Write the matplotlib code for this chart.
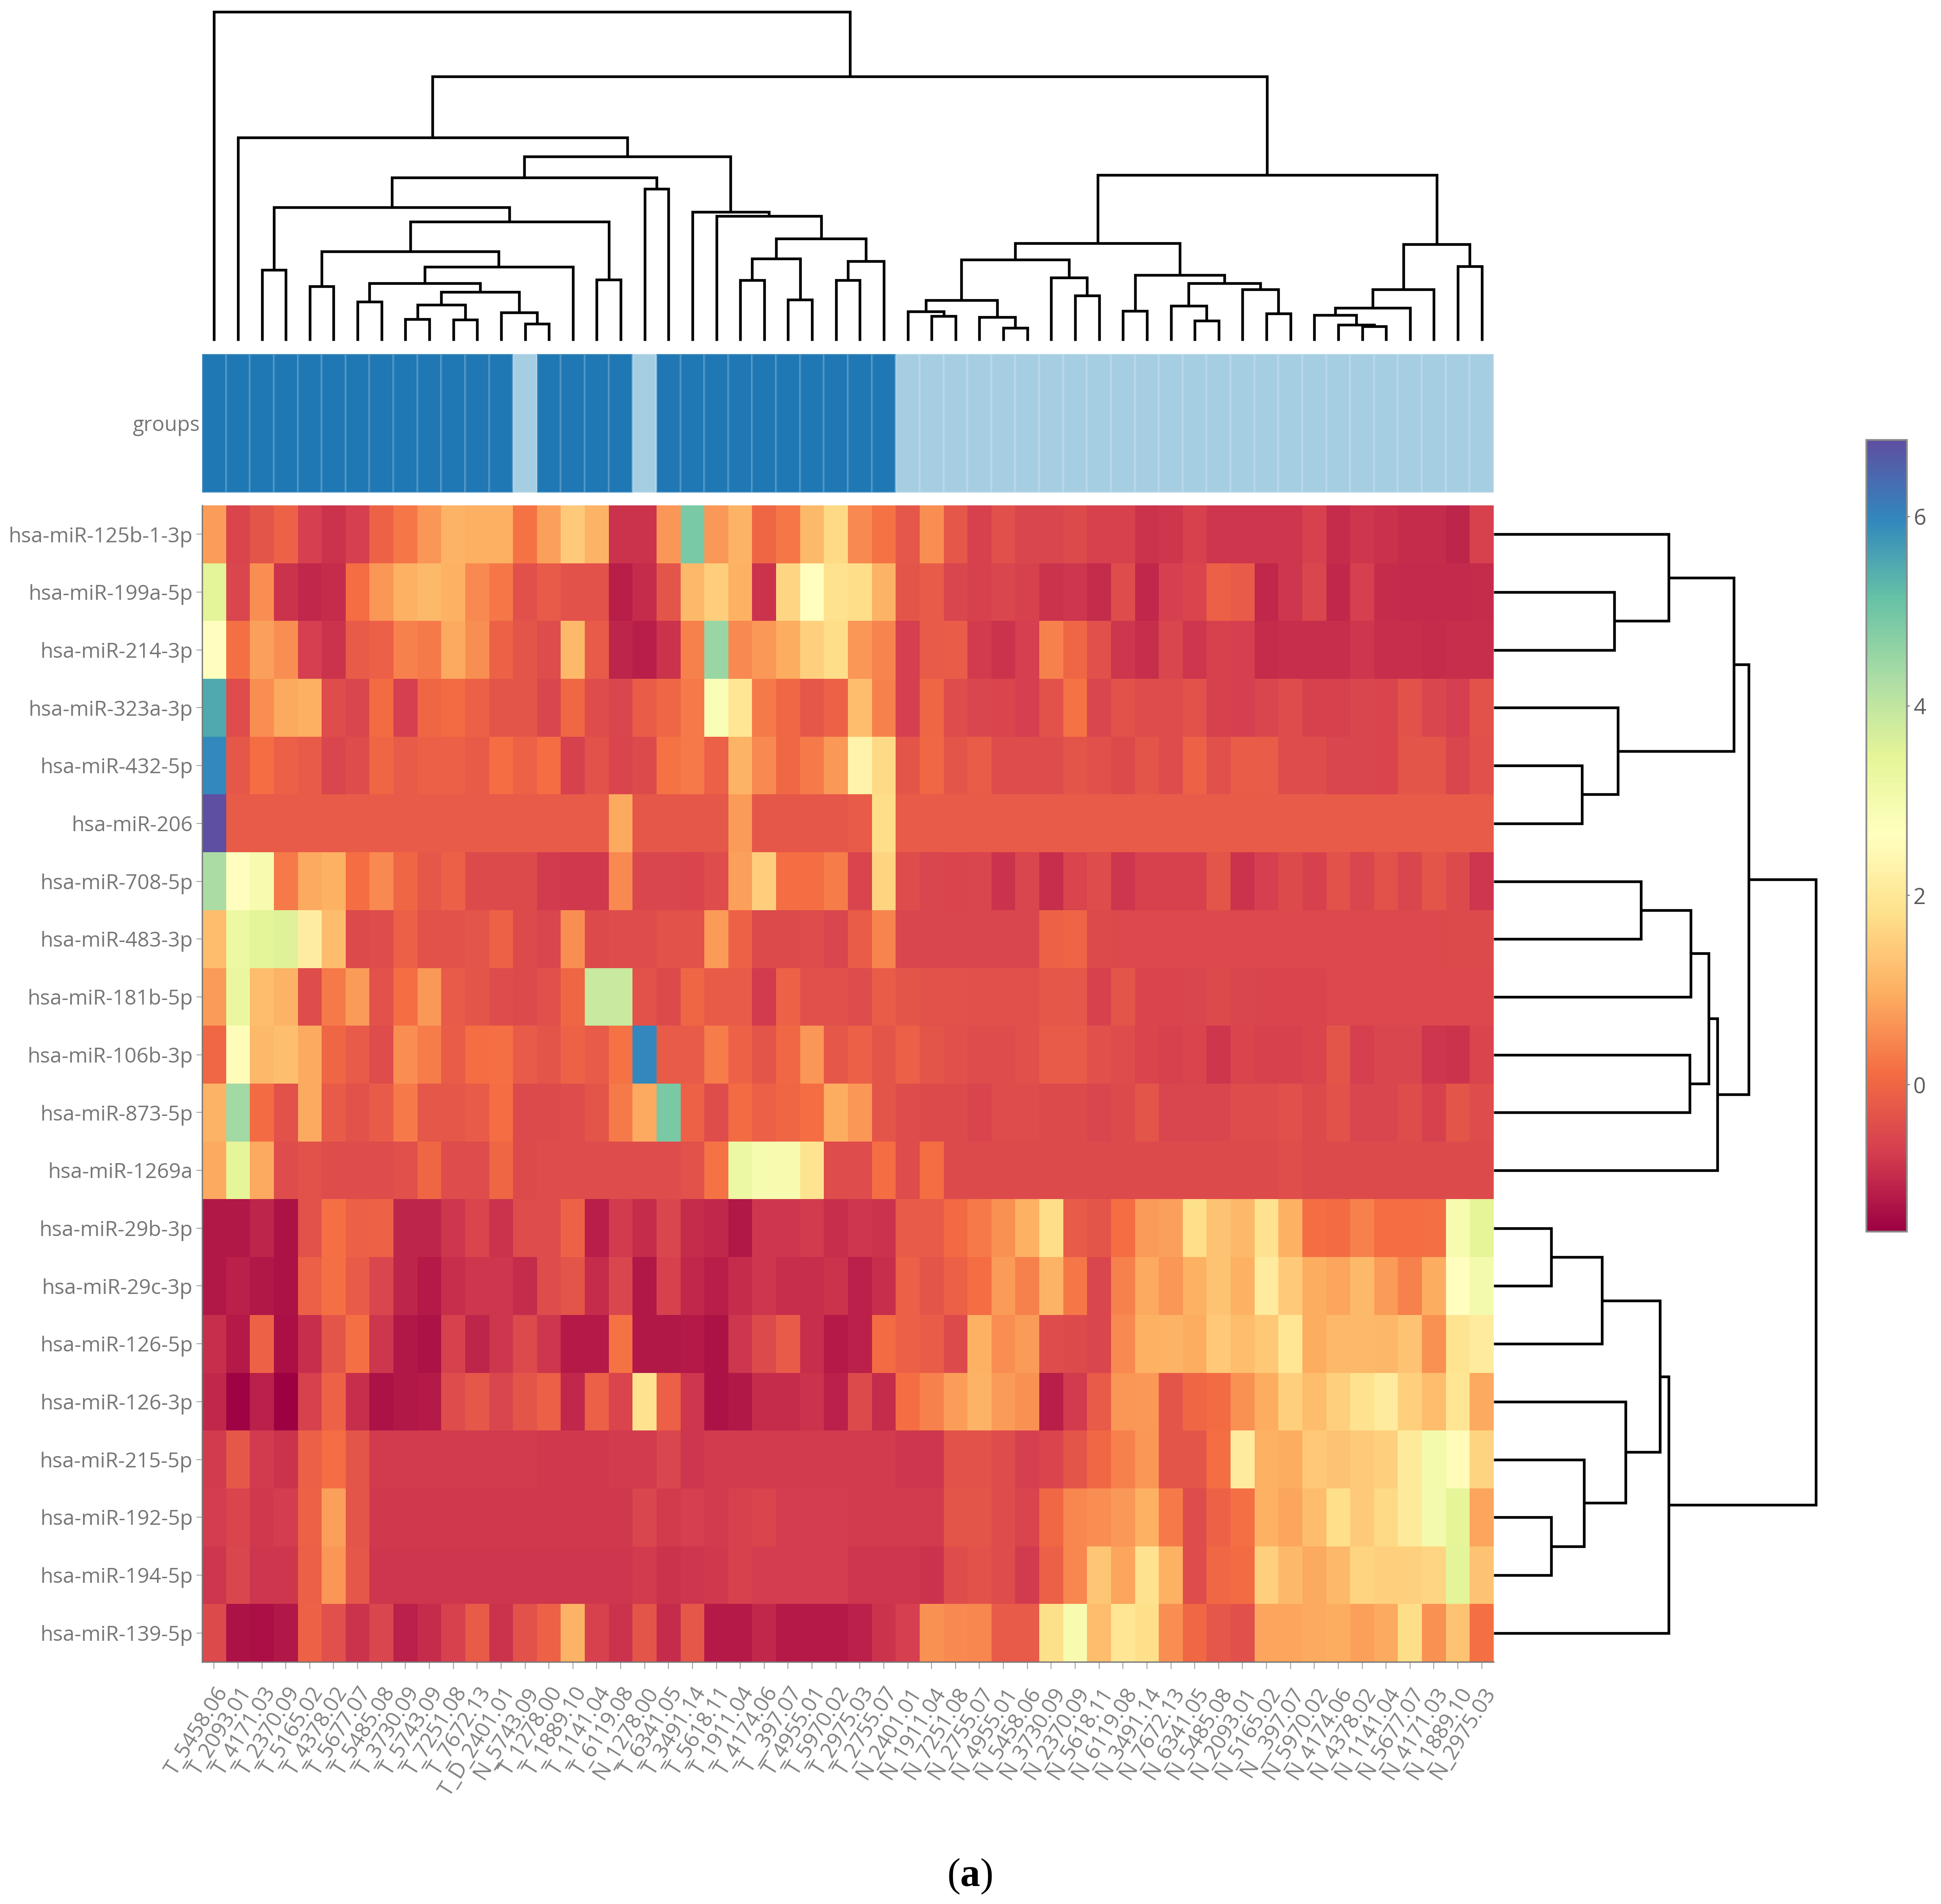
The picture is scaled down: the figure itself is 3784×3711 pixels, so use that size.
import numpy as np
from matplotlib import pyplot as plt
from matplotlib.colors import ListedColormap

plt.rcParams['font.family'] = ['Open Sans', 'DejaVu Sans']
plt.rcParams['mathtext.fontset'] = 'custom'
plt.rcParams['mathtext.rm'] = 'Liberation Serif'
plt.rcParams['mathtext.bf'] = 'Liberation Serif:bold'

mirnas = ['hsa-miR-125b-1-3p', 'hsa-miR-199a-5p', 'hsa-miR-214-3p', 'hsa-miR-323a-3p',
          'hsa-miR-432-5p', 'hsa-miR-206', 'hsa-miR-708-5p', 'hsa-miR-483-3p',
          'hsa-miR-181b-5p', 'hsa-miR-106b-3p', 'hsa-miR-873-5p', 'hsa-miR-1269a',
          'hsa-miR-29b-3p', 'hsa-miR-29c-3p', 'hsa-miR-126-5p', 'hsa-miR-126-3p',
          'hsa-miR-215-5p', 'hsa-miR-192-5p', 'hsa-miR-194-5p', 'hsa-miR-139-5p']

samples = ['T_5458.06', 'T_2093.01', 'T_4171.03', 'T_2370.09', 'T_5165.02', 'T_4378.02',
           'T_5677.07', 'T_5485.08', 'T_3730.09', 'T_5743.09', 'T_7251.08', 'T_7672.13',
           'T_D_2401.01', 'N_5743.09', 'T_1278.00', 'T_1889.10', 'T_1141.04', 'T_6119.08',
           'N_1278.00', 'T_6341.05', 'T_3491.14', 'T_5618.11', 'T_1911.04', 'T_4174.06',
           'T__397.07', 'T_4955.01', 'T_5970.02', 'T_2975.03', 'T_2755.07', 'N_2401.01',
           'N_1911.04', 'N_7251.08', 'N_2755.07', 'N_4955.01', 'N_5458.06', 'N_3730.09',
           'N_2370.09', 'N_5618.11', 'N_6119.08', 'N_3491.14', 'N_7672.13', 'N_6341.05',
           'N_5485.08', 'N_2093.01', 'N_5165.02', 'N__397.07', 'N_5970.02', 'N_4174.06',
           'N_4378.02', 'N_1141.04', 'N_5677.07', 'N_4171.03', 'N_1889.10', 'N_2975.03']

# 1 = tumour, 0 = normal
groups = [1, 1, 1, 1, 1, 1, 1, 1, 1, 1, 1, 1, 1, 0, 1, 1, 1, 1, 0, 1, 1, 1, 1, 1, 1, 1, 1, 1, 1,
          0, 0, 0, 0, 0, 0, 0, 0, 0, 0, 0, 0, 0, 0, 0, 0, 0, 0, 0, 0, 0, 0, 0, 0, 0]

values = [
    # 125b-1-3p
    [.75, -.6, -.3, -.05, -.7, -.85, -.7, -.05, .25, .65, 1.05, .98, .98, .2, .8, 1.45, 1.05, -.85, -.85, .65, 4.9, .7, 1.05, 0, .25, 1.15, 1.7,
     .5, .2, -.25, .55, -.25, -.65, -.4, -.55, -.55, -.5, -.65, -.65, -.85, -.8, -.65, -.8, -.8, -.8, -.8, -.65, -.95, -.8, -.88, -.95, -.95, -1.05, -.65],
    # 199a-5p
    [3.5, -.55, .55, -.85, -1.0, -.95, .12, .65, 1.0, 1.15, 1.0, .5, .25, -.4, -.2, -.35, -.35, -1.15, -.95, -.3, 1.15, 1.5, 1.0, -.85, 1.65, 2.6, 1.85,
     1.75, 1.05, -.3, -.2, -.55, -.65, -.55, -.65, -.85, -.8, -.95, -.45, -1.0, -.7, -.6, -.1, -.2, -1.0, -.8, -.55, -1.0, -.7, -.95, -.98, -.98, -.98, -.95],
    # 214-3p
    [2.6, .15, .8, .55, -.7, -.85, -.2, -.1, .4, .3, .9, .55, -.05, -.3, -.45, 1.15, -.2, -1.05, -1.15, -.85, .4, 4.5, .5, .7, .95, 1.55, 1.75,
     .65, .42, -.7, -.2, -.15, -.75, -.85, -.7, .4, 0, -.4, -.8, -.9, -.55, -.8, -.65, -.7, -.95, -.9, -.9, -.9, -.8, -.9, -.9, -.95, -.9, -.9],
    # 323a-3p
    [5.5, -.45, .55, .9, .97, -.45, -.55, .1, -.7, 0, .1, -.1, -.3, -.3, -.55, .05, -.45, -.55, -.15, 0, .3, 2.8, 1.95, .3, .05, -.25, -.05,
     1.2, .4, -.7, 0, -.45, -.55, -.6, -.7, -.35, .2, -.55, -.35, -.45, -.45, -.35, -.65, -.7, -.55, -.45, -.65, -.65, -.55, -.6, -.35, -.55, -.7, -.35],
    # 432-5p
    [5.95, -.25, .12, -.1, -.2, -.55, -.45, 0, -.2, -.1, -.1, -.2, .12, -.05, .12, -.65, -.35, -.6, -.5, .2, .3, -.1, 1.05, .5, .05, .3, .7,
     2.3, 1.7, -.3, .05, -.3, -.15, -.45, -.45, -.45, -.3, -.4, -.5, -.3, -.45, -.05, -.4, -.15, -.15, -.45, -.45, -.55, -.55, -.6, -.3, -.3, -.55, -.4],
    # 206
    [6.81, -.2, -.2, -.2, -.2, -.2, -.2, -.2, -.2, -.2, -.2, -.2, -.2, -.2, -.2, -.2, -.2, .92, -.25, -.25, -.25, -.25, .72, -.25, -.25, -.25, -.25,
     -.2, 1.75, -.2, -.2, -.2, -.2, -.2, -.2, -.2, -.2, -.2, -.2, -.2, -.2, -.2, -.2, -.2, -.2, -.2, -.2, -.2, -.2, -.2, -.2, -.2, -.2, -.2],
    # 708-5p
    [4.3, 2.6, 2.95, .3, .9, 1.0, .12, .5, 0, -.25, -.1, -.5, -.5, -.5, -.75, -.78, -.78, .5, -.55, -.55, -.6, -.45, .8, 1.5, .12, .12, .32,
     -.6, 1.6, -.45, -.55, -.6, -.55, -.85, -.55, -.9, -.6, -.45, -.8, -.65, -.65, -.65, -.3, -.85, -.7, -.5, -.65, -.35, -.55, -.35, -.55, -.3, -.5, -.8],
    # 483-3p
    [1.2, 3.25, 3.5, 3.55, 2.15, 1.2, -.5, -.45, -.1, -.35, -.35, -.3, -.05, -.5, -.55, .55, -.5, -.45, -.45, -.35, -.35, .72, -.05, -.5, -.5, -.45, -.55,
     -.15, .42, -.55, -.55, -.55, -.55, -.55, -.55, -.05, -.02, -.5, -.52, -.52, -.52, -.52, -.52, -.52, -.52, -.52, -.52, -.52, -.52, -.52, -.52, -.52, -.5, -.5],
    # 181b-5p
    [.72, 3.3, 1.2, 1.05, -.45, .3, .72, -.35, .12, .7, -.2, -.3, -.45, -.5, -.4, 0, 3.9, 3.9, -.35, -.5, 0, -.2, -.2, -.75, -.05, -.4, -.4,
     -.45, -.15, -.3, -.35, -.35, -.4, -.4, -.4, -.25, -.25, -.65, -.3, -.6, -.6, -.55, -.5, -.55, -.6, -.6, -.6, -.52, -.52, -.52, -.52, -.52, -.52, -.52],
    # 106b-3p
    [.03, 2.55, 1.15, 1.25, .9, 0, -.2, -.45, .55, .32, -.15, .12, .18, -.2, -.3, -.05, -.2, .2, 5.97, -.2, -.2, .32, -.05, -.3, .05, .65, -.25,
     -.1, -.3, -.1, -.3, -.4, -.45, -.45, -.4, -.2, -.2, -.4, -.45, -.6, -.65, -.6, -.8, -.6, -.65, -.65, -.6, -.3, -.7, -.55, -.55, -.8, -.85, -.6],
    # 873-5p
    [1.05, 4.4, .1, -.35, .9, -.2, -.35, -.2, .28, -.25, -.25, -.2, .12, -.5, -.5, -.45, -.3, .28, .9, 4.9, -.05, -.45, .1, -.1, 0, .12, .95,
     .65, -.3, -.45, -.5, -.5, -.6, -.45, -.45, -.5, -.5, -.55, -.5, -.3, -.55, -.55, -.55, -.45, -.45, -.4, -.5, -.35, -.55, -.55, -.45, -.65, -.3, -.45],
    # 1269a
    [.9, 3.45, .9, -.45, -.35, -.45, -.45, -.45, -.4, 0, -.45, -.45, 0, -.5, -.45, -.45, -.45, -.45, -.45, -.45, -.35, .2, 3.25, 2.95, 2.95, 1.9, -.45,
     -.45, .12, -.45, .12, -.5, -.5, -.5, -.5, -.5, -.5, -.5, -.5, -.5, -.5, -.5, -.5, -.5, -.5, -.42, -.5, -.5, -.5, -.5, -.5, -.5, -.5, -.5],
    # 29b-3p
    [-1.25, -1.25, -1.05, -1.3, -.35, .18, -.1, -.05, -1.05, -1.05, -.8, -.6, -.85, -.45, -.45, -.05, -1.15, -.75, -.95, -.55, -.95, -1.0, -1.25, -.8, -.8, -.75, -.9,
     -.8, -.85, -.2, -.2, .08, .3, .6, 1.0, 1.75, -.2, -.3, .12, .72, .8, 1.8, 1.3, 1.15, 1.85, 1.0, .12, .1, .4, .12, .12, .15, 2.95, 3.45],
    # 29c-3p
    [-1.25, -1.1, -1.25, -1.3, -.1, .15, -.2, -.55, -1.05, -1.2, -.9, -.8, -.8, -.95, -.45, -.3, -.95, -.55, -1.25, -.65, -1.0, -1.15, -.95, -.8, -.9, -.9, -.85,
     -1.1, -.9, -.1, -.3, -.1, .12, .72, .4, 1.05, .25, -.55, .4, .9, .65, 1.0, 1.3, 1.0, 2.1, 1.45, .95, .85, 1.15, .72, .4, .95, 2.6, 3.0],
    # 126-5p
    [-.9, -1.2, -.05, -1.35, -.9, -.3, .18, -.8, -1.25, -1.3, -.65, -1.05, -.8, -.5, -.8, -1.2, -1.2, .2, -1.25, -1.25, -1.2, -1.3, -.8, -.5, -.2, -.9, -1.2,
     -1.1, .1, -.1, -.15, -.5, 1.0, .55, .72, -.45, -.5, -.55, .5, 1.0, 1.05, .95, 1.4, 1.2, 1.4, 1.95, .95, 1.15, 1.15, 1.1, 1.3, .6, 1.9, 2.1],
    # 126-3p
    [-1.0, -1.5, -1.1, -1.55, -.65, -.05, -.9, -1.3, -1.25, -1.2, -.45, -.25, -.55, -.3, -.1, -1.0, -.1, -.6, 1.85, -.1, -.8, -1.3, -1.25, -.95, -.95, -.85, -1.1,
     -.5, -.95, .12, .4, .75, 1.05, .72, .6, -1.15, -.75, -.2, .65, .7, -.3, 0, .1, .6, .95, 1.55, 1.2, 1.55, 1.85, 2.1, 1.55, 1.2, 1.95, .9],
    # 215-5p
    [-.75, -.25, -.75, -.85, -.1, .12, -.3, -.75, -.75, -.75, -.75, -.75, -.75, -.75, -.78, -.78, -.78, -.75, -.75, -.55, -.8, -.75, -.75, -.75, -.75, -.75, -.75,
     -.75, -.75, -.82, -.82, -.35, -.35, -.45, -.7, -.6, -.3, .05, .4, .65, -.3, -.3, .12, 2.1, 1.0, .95, 1.4, 1.3, 1.45, 1.55, 2.05, 3.05, 2.5, 1.6],
    # 192-5p
    [-.72, -.6, -.78, -.72, -.05, .8, -.3, -.78, -.78, -.78, -.78, -.78, -.78, -.78, -.78, -.78, -.78, -.78, -.55, -.75, -.7, -.75, -.65, -.6, -.72, -.72, -.72,
     -.75, -.75, -.75, -.75, -.3, -.3, -.45, -.6, .05, .45, .55, .7, 1.0, .3, -.45, -.05, .18, 1.0, .85, 1.2, 1.8, 1.45, 1.7, 2.05, 3.0, 3.45, .85],
    # 194-5p
    [-.8, -.55, -.8, -.8, -.1, .65, -.25, -.8, -.8, -.8, -.8, -.8, -.8, -.8, -.8, -.8, -.8, -.8, -.75, -.85, -.82, -.78, -.65, -.72, -.72, -.72, -.72,
     -.82, -.8, -.8, -.85, -.45, -.35, -.45, -.75, -.1, .45, 1.35, .85, 1.85, 1.0, -.45, .05, .1, 1.55, 1.15, .9, 1.15, 1.6, 1.55, 1.55, 1.65, 3.5, 1.3],
    # 139-5p
    [-.5, -1.3, -1.35, -1.25, -.05, -.4, -.85, -.55, -1.1, -.95, -.65, -.2, -.85, -.35, -.05, 1.05, -.65, -.85, -.3, -.95, -.25, -1.2, -1.2, -1.0, -1.2, -1.2, -1.2,
     -1.1, -.85, -.7, .6, .5, .45, -.2, -.2, 1.8, 2.95, 1.2, 1.95, 1.8, .55, .05, -.25, -.4, .85, .85, .9, .95, .8, .9, 1.75, .6, 1.3, .15],
]

# dendrograms as merges: (child, child, height); leaves are 0..n-1, new nodes count on from n
col_merges = [(2, 3, 137.7), (4, 5, 105.6), (6, 7, 75.8), (8, 9, 42.2), (10, 11, 40.9), (13, 14, 33.1),
              (12, 59, 54.6), (57, 58, 69.8), (61, 60, 95.0), (56, 62, 112.0), (63, 15, 144.2), (55, 64, 174.5),
              (16, 17, 119.4), (65, 66, 232.3), (54, 67, 260.3), (18, 19, 296.1), (68, 69, 317.7), (22, 23, 118.0),
              (24, 25, 80.3), (26, 27, 118.0), (71, 72, 160.2), (73, 28, 154.7), (74, 75, 199.3), (21, 76, 242.9),
              (20, 77, 251.1), (70, 78, 359.0), (1, 79, 395.8), (30, 31, 48.2), (29, 81, 57.4), (33, 34, 25.3),
              (32, 83, 45.9), (82, 84, 79.4), (36, 37, 88.2), (35, 86, 123.0), (85, 87, 157.9), (38, 39, 58.3),
              (41, 42, 39.0), (40, 90, 68.0), (44, 45, 52.8), (43, 92, 100.1), (91, 93, 112.0), (89, 94, 127.6),
              (88, 95, 190.5), (48, 49, 28.5), (47, 97, 31.2), (46, 98, 50.5), (99, 50, 64.3), (100, 51, 100.1),
              (52, 53, 144.6), (101, 102, 188.2), (96, 103, 322.8), (80, 104, 515.2), (0, 105, 641.4)]

row_merges = [(1, 2, 234.7), (0, 20, 340.3), (4, 5, 171.9), (3, 22, 242.3), (21, 23, 467.9), (6, 7, 286.7),
              (25, 8, 383.7), (9, 10, 381.6), (26, 27, 418.4), (28, 11, 436.2), (24, 29, 496.9), (12, 13, 111.7),
              (31, 14, 211.2), (17, 18, 111.7), (16, 33, 176.0), (15, 34, 257.1), (32, 35, 323.5), (36, 19, 340.3),
              (30, 37, 627.6)]

cbar_ticks = [0, 2, 4, 6]
vmin = -1.55
vmax = 6.81

W = 3784
H = 3711
gray = '#757575'


def px_axes(fig, x0, y0, x1, y1):
    # axes from pixel box, y counted from the top of the picture
    return fig.add_axes([x0 / W, 1 - y1 / H, (x1 - x0) / W, (y1 - y0) / H])


def draw_tree(ax, merges, n, sideways=False):
    pos = [i + 0.5 for i in range(n)]
    hgt = [0.0] * n
    for a, b, h in merges:
        along = [pos[a], pos[a], pos[b], pos[b]]
        up = [hgt[a], h, h, hgt[b]]
        if sideways:
            ax.plot(up, along, color='black', lw=3.8, solid_joinstyle='miter', solid_capstyle='butt', clip_on=False)
        else:
            ax.plot(along, up, color='black', lw=3.8, solid_joinstyle='miter', solid_capstyle='butt', clip_on=False)
        pos.append((pos[a] + pos[b]) / 2)
        hgt.append(h)


fig = plt.figure(figsize=(W / 100, H / 100), dpi=100)

# top dendrogram
ax_top = px_axes(fig, 394, 23, 2912, 664)
draw_tree(ax_top, col_merges, len(samples))
ax_top.set_xlim(0, len(samples))
ax_top.set_ylim(0, 641.4)
ax_top.axis('off')

# group strip
ax_grp = px_axes(fig, 394, 690, 2912, 960)
ax_grp.pcolormesh(np.array([groups]), cmap=ListedColormap(['#A6CEE3', '#1F78B4']), vmin=0, vmax=1,
                  edgecolors=(1, 1, 1, 0.14), linewidth=1.5)
ax_grp.set_xticks([])
ax_grp.set_yticks([0.5])
ax_grp.set_yticklabels(['groups'], fontsize=29, color=gray)
ax_grp.tick_params(axis='y', length=0, pad=3)
for s in ax_grp.spines.values():
    s.set_visible(False)

# heatmap
ax = px_axes(fig, 394, 985, 2912, 3239)
mesh = ax.pcolormesh(np.array(values), cmap='Spectral', vmin=vmin, vmax=vmax)
ax.set_ylim(len(mirnas), 0)
ax.set_xticks(np.arange(len(samples)) + 0.5)
ax.set_xticklabels(samples, rotation=58, ha='right', va='top', rotation_mode='anchor', fontsize=30, color='#808080')
ax.set_yticks(np.arange(len(mirnas)) + 0.5)
ax.set_yticklabels(mirnas, fontsize=29.3, color=gray)
ax.tick_params(axis='x', length=10, width=1.2, color='#9a9a9a', pad=20)
ax.tick_params(axis='y', length=8, width=1.2, color='#9a9a9a', pad=5)
ax.spines['top'].set_visible(False)
ax.spines['right'].set_visible(False)
ax.spines['left'].set_color(gray)
ax.spines['bottom'].set_color(gray)
ax.spines['left'].set_linewidth(1.8)
ax.spines['bottom'].set_linewidth(1.8)

# right dendrogram
ax_right = px_axes(fig, 2912, 985, 3540, 3239)
draw_tree(ax_right, row_merges, len(mirnas), sideways=True)
ax_right.set_xlim(0, 627.6)
ax_right.set_ylim(len(mirnas), 0)
ax_right.axis('off')

# colorbar
cax = px_axes(fig, 3638, 857, 3717, 2400)
cb = fig.colorbar(mesh, cax=cax)
cb.set_ticks(cbar_ticks)
cb.ax.tick_params(length=4.5, width=1.5, color=gray, labelsize=31, labelcolor='#5a5a5a', pad=5)
cb.outline.set_edgecolor('#8a8a8a')
cb.outline.set_linewidth(2.5)

fig.text(1891 / W, 1 - 3656 / H, r'$\mathrm{(}\mathbf{a}\mathrm{)}$', fontsize=56, ha='center', va='center', color='black')

fig.savefig('out.png', dpi=100)
